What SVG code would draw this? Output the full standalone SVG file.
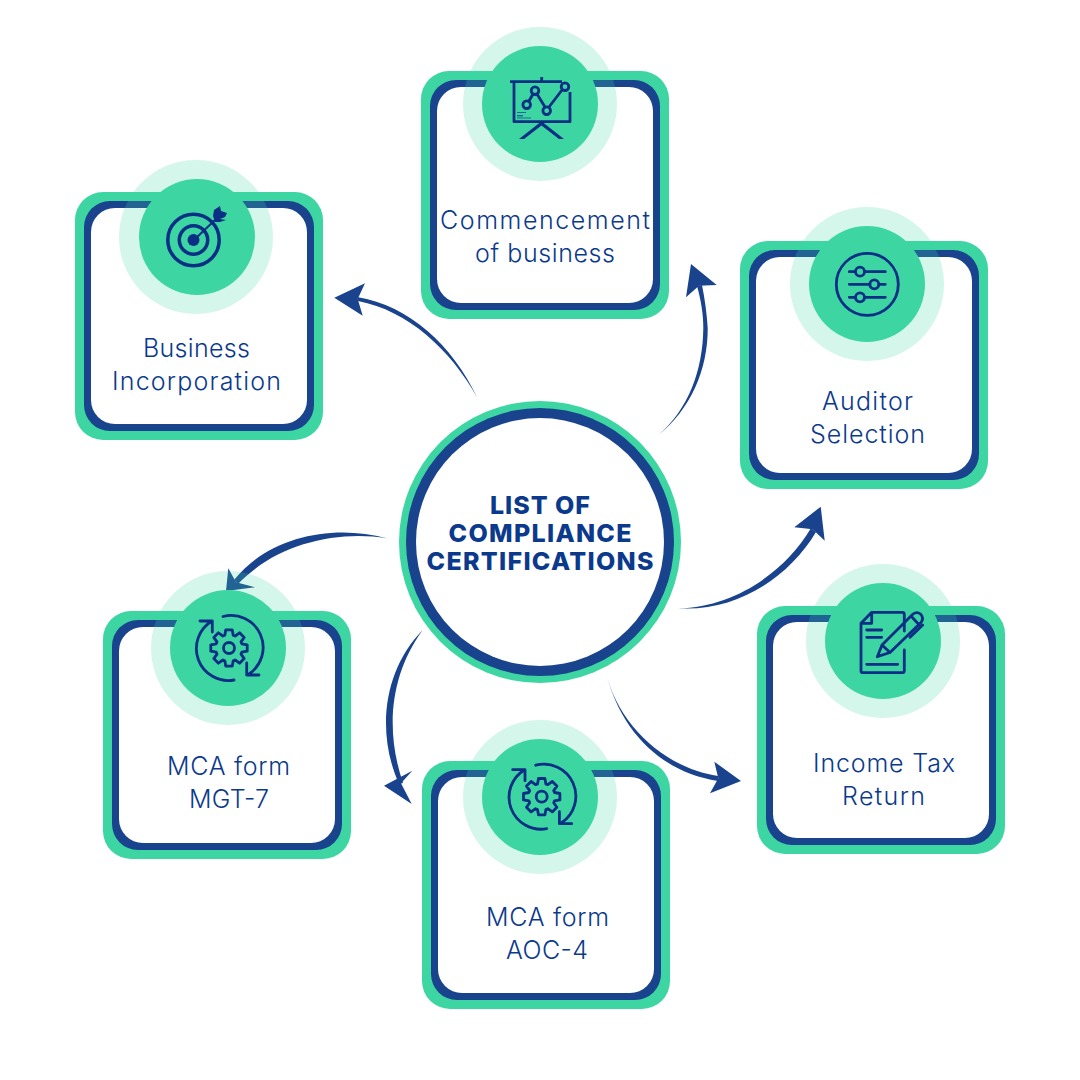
<svg xmlns="http://www.w3.org/2000/svg" width="1080" height="1080" viewBox="0 0 1080 1080">
<style>
.g{fill:#3dd6a3}.n{fill:#1a438d}.w{fill:#fff}.h{fill:#3dd6a3;fill-opacity:.22}
.t{font-family:"Inter","Liberation Sans",sans-serif;font-size:25px;font-weight:350;fill:#0b3a8c;text-anchor:middle}
.b{font-family:"Inter","Liberation Sans",sans-serif;font-size:25px;font-weight:800;fill:#0b3a8c;text-anchor:middle}
.i{fill:none;stroke:#0b2f85;stroke-width:2.8;stroke-linecap:round;stroke-linejoin:round}
.f{fill:#0b2f85}
</style>
<defs>
<g id="card"><rect class="g" width="248" height="248" rx="28"/><rect class="n" x="9" y="9" width="230" height="230" rx="26"/><rect class="w" x="16" y="16" width="216" height="216" rx="24"/></g>
<g id="gear"><g class="i"><circle r="5.500"/><path d="M-3.200-18.200L3.200-18.200 4.200-12.800 6.100-12 10.600-15.200 15.200-10.600 12-6.100 12.800-4.200 18.200-3.200 18.200 3.200 12.800 4.200 12 6.100 15.200 10.600 10.600 15.200 6.100 12 4.200 12.800 3.200 18.200-3.200 18.200-4.200 12.800-6.100 12-10.600 15.200-15.200 10.600-12 6.100-12.800 4.200-18.200 3.200-18.200-3.200-12.800-4.200-12-6.100-15.200-10.600-10.600-15.200-6.100-12-4.200-12.800Z"/><path d="M-6-31.500A32 32 0 0 1 20 26M17.700 15V27H30M5 32A32 32 0 0 1-17-27M-29-27H-16.700V-16"/></g></g>
</defs>
<g id="connectors" class="n">
<g id="arrow-business"><path d="M334.300 297.700L365 283.300 357.700 299 362.700 315.700Z"/><path d="M477.300 397.700C452 345 410 306 357 297L358 301C408 310.500 451 350 477.300 397.700Z"/></g>
<g id="arrow-commencement"><path d="M691 264L716.700 285 699 285.700 686 297.300Z"/><path d="M658.300 435C690 410 708 370 707.700 328 707 315 705 300 702 285L697 286C701 300 703.500 315 703.300 328 703 370 688 410 658.300 435Z"/></g>
<g id="arrow-auditor"><path d="M820.700 506.700L794.300 527.300 812.700 529.300 824.700 540.700Z"/><path d="M678.300 608.300C735 607 785 572 811 528L816 532C790 576 738 612 678.300 608.300Z"/></g>
<g id="arrow-income"><path d="M741 781L714.300 761.700 718.300 778.300 710 793.300Z"/><path d="M606 672.300C618 725 665 768 718 776L718 781C660 772 620 730 606 672.300Z"/></g>
<g id="arrow-mgt7"><path d="M226 591L228.300 568.300 236 582.300 255 587.300Z"/><path d="M386.700 538.300C335 524 270 535 234 580L238 584C275 545 335 530 386.700 538.300Z"/></g>
<g id="arrow-aoc4"><path d="M384 785.700L412.300 770.700 401 783.300 411.700 804Z"/><path d="M422.700 630C385 668 375 730 399 784L403 783C385 730 390 675 422.700 630Z"/></g>
</g>
<g id="center"><circle class="g" cx="540" cy="542" r="141"/><circle class="n" cx="540" cy="542" r="134"/><circle class="w" cx="540" cy="542" r="124"/>
<text class="b" x="540" y="513.500" textLength="100">LIST OF</text><text class="b" x="540" y="541.500" textLength="183">COMPLIANCE</text><text class="b" x="540" y="569.500" textLength="227">CERTIFICATIONS</text></g>
<g id="node-business"><use href="#card" x="75" y="192"/><circle class="h" cx="196" cy="237" r="77"/><circle class="g" cx="197" cy="237" r="58"/>
<g class="i" style="stroke-width:3.500"><circle cx="193.500" cy="240" r="25.700"/><circle cx="193.500" cy="240" r="14.200"/></g><path class="i" style="stroke-width:2" d="M194 240L216 219"/><circle class="f" cx="193.500" cy="240" r="6"/><path class="f" d="M213 216L214 210 220 206 221 211 227 213 225 217 220 219 226 220 220 222 215 222Z"/>
<text class="t" x="196.500" y="357" textLength="107">Business</text><text class="t" x="196.500" y="390" textLength="169">Incorporation</text></g>
<g id="node-commencement"><use href="#card" x="421" y="71"/><circle class="h" cx="540" cy="104" r="77"/><circle class="g" cx="540" cy="104" r="58"/>
<g class="i"><path d="M510 81.700H562M541.700 81.700V77M514 82V121.700H570V92" style="stroke-linecap:butt"/><path d="M529 101L533 94M537 94L545 107M549 107L562 90"/><circle cx="526.700" cy="104.700" r="3.800"/><circle cx="535" cy="90.700" r="3.800"/><circle cx="546.700" cy="110.700" r="3.800"/><circle cx="565" cy="86.700" r="3.800"/></g><path class="f" d="M519 139L540 122.500 543 122.500 564 139H559L541.500 125.500 524 139Z"/><path d="M517 112h9v1h-9zM517 115h6v1.500h-6zM517 117.500h14v1h-14z" fill="#1e6b96"/>
<text class="t" x="545" y="229" textLength="210">Commencement</text><text class="t" x="545" y="262" textLength="140">of business</text></g>
<g id="node-auditor"><use href="#card" x="740" y="241"/><circle class="h" cx="867" cy="284" r="77"/><circle class="g" cx="867" cy="284" r="58"/>
<g class="i"><circle cx="867.300" cy="284.300" r="31"/><path d="M849.300 271.700H855.500M864.500 271.700H885.300M849.300 284.300H870M879 284.300H885.300M849.300 297.300H855.500M864.500 297.300H885.300"/><circle cx="860" cy="271.700" r="4.500"/><circle cx="874.300" cy="284.300" r="4.500"/><circle cx="860" cy="297.300" r="4.500"/></g>
<text class="t" x="867.500" y="410" textLength="91">Auditor</text><text class="t" x="867.500" y="443" textLength="115">Selection</text></g>
<g id="node-income"><use href="#card" x="757" y="606"/><circle class="h" cx="883" cy="641" r="77"/><circle class="g" cx="883" cy="641" r="58"/>
<g class="i"><path d="M904.300 631V614.300Q904.300 612.300 902.300 612.300H871.700L861 623.300V670.700Q861 672.700 863 672.700H902.300Q904.300 672.700 904.300 670.700V650M861 623.300H871.700V612.300"/><path d="M866.700 630H881.700M866.700 637.300H881.700M866.700 664.300H897.700"/><path d="M877.300 656.700L882 645 913 614Q917 611 921 614.500 924 618.500 921 622.500L890 652.500ZM882 645L890 652.500M911.700 616.700L919.300 625M922.700 625L910 637.300"/></g>
<text class="t" x="884" y="772" textLength="142">Income Tax</text><text class="t" x="883.500" y="805" textLength="83">Return</text></g>
<g id="node-mgt7"><use href="#card" x="103" y="611"/><circle class="h" cx="228" cy="648" r="77"/><circle class="g" cx="228" cy="648" r="58"/><use href="#gear" x="229" y="648"/>
<text class="t" x="228.500" y="775" textLength="123">MCA form</text><text class="t" x="229" y="808" textLength="80">MGT-7</text></g>
<g id="node-aoc4"><use href="#card" x="422" y="761"/><circle class="h" cx="540" cy="797" r="77"/><circle class="g" cx="540" cy="797" r="58"/><use href="#gear" x="541.700" y="796.700"/>
<text class="t" x="547.500" y="926" textLength="123">MCA form</text><text class="t" x="547" y="959" textLength="82">AOC-4</text></g>
</svg>
